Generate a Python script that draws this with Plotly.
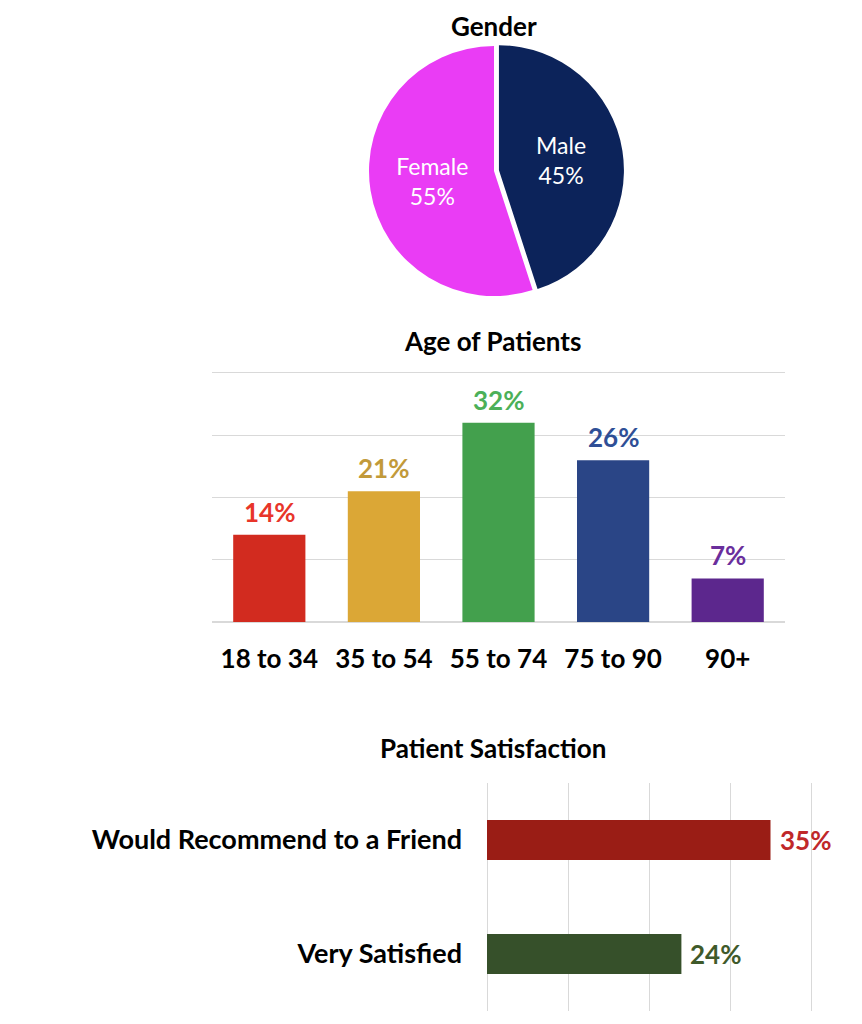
import plotly.graph_objects as go

# ---- data ----
gender_labels = ["Male", "Female"]
gender_values = [45, 55]
gender_colors = ["#0c235a", "#ea3cf5"]

age_groups = ["18 to 34", "35 to 54", "55 to 74", "75 to 90", "90+"]
age_values = [14, 21, 32, 26, 7]
age_bar_colors = ["#d22b1f", "#dba736", "#43a04d", "#2a4586", "#5c278d"]
age_text_colors = ["#e8352a", "#c29a3a", "#4cb058", "#2f4f96", "#6a2e9c"]

sat_labels = ["Very Satisfied", "Would Recommend to a Friend"]
sat_values = [24, 35]
sat_bar_colors = ["#36502a", "#9a1d15"]
sat_text_colors = ["#3f5a2a", "#c0282a"]

FONT = "Lato"
W, H = 862, 1024
OFF = 8  # page body margin


def fx(x):
    return (x - OFF) / W


def fy(y):
    return 1 - (y - OFF) / H


fig = go.Figure()

# ---- pie ----
cx, cy, r = 494, 171, 125
rr = r * 1.04
fig.add_trace(go.Pie(
    labels=gender_labels, values=gender_values, sort=False, direction="clockwise",
    rotation=0, pull=[0.04, 0],
    marker=dict(colors=gender_colors, line=dict(color="white", width=0)),
    texttemplate="%{label}<br>%{percent:.0%}", textposition="inside",
    insidetextorientation="horizontal",
    textfont=dict(family=FONT, size=23, color="white"),
    showlegend=False, hoverinfo="label+percent",
    domain=dict(x=[fx(cx - rr), fx(cx + rr)], y=[fy(cy + rr), fy(cy - rr)]),
))

# ---- age bars ----
fig.add_trace(go.Bar(
    x=age_groups, y=age_values, marker=dict(color=age_bar_colors, line=dict(width=0)),
    xaxis="x", yaxis="y", showlegend=False,
))

# ---- satisfaction bars ----
fig.add_trace(go.Bar(
    y=sat_labels, x=sat_values, orientation="h",
    marker=dict(color=sat_bar_colors, line=dict(width=0)),
    xaxis="x2", yaxis="y2", showlegend=False, width=0.35,
))

annotations = []
for g, v, c in zip(age_groups, age_values, age_text_colors):
    annotations.append(dict(x=g, y=v, xref="x", yref="y", text=f"<b>{v}%</b>",
                            showarrow=False, yanchor="bottom", yshift=5,
                            font=dict(family=FONT, size=26, color=c)))
for l, v, c in zip(sat_labels, sat_values, sat_text_colors):
    annotations.append(dict(x=v, y=l, xref="x2", yref="y2", text=f"<b>{v}%</b>",
                            showarrow=False, xanchor="left", xshift=7,
                            font=dict(family=FONT, size=26, color=c)))

# chart titles
annotations.append(dict(x=fx(494), y=1.0, xref="paper", yref="paper", text="<b>Gender</b>",
                        showarrow=False, xanchor="center", yanchor="top",
                        font=dict(family=FONT, size=26, color="black")))
titles = [("Age of Patients", 492, 341), ("Patient Satisfaction", 493, 748)]
for t, x, y in titles:
    annotations.append(dict(x=fx(x), y=fy(y), xref="paper", yref="paper", text=f"<b>{t}</b>",
                            showarrow=False, xanchor="center", yanchor="middle",
                            font=dict(family=FONT, size=26, color="black")))

# bar chart geometry (reference pixels)
base_y, top_y = 622, 373          # y=0 and y=40
ppu = (base_y - top_y) / 40
ytop = 40.5
left_x, right_x = 487, 811        # x=0 and x=40
ppx = (right_x - left_x) / 40

fig.update_layout(
    width=W, height=H, margin=dict(l=0, r=0, t=0, b=0),
    paper_bgcolor="white", plot_bgcolor="white",
    font=dict(family=FONT, color="black"),
    bargap=0.37,
    xaxis=dict(domain=[fx(212), fx(785)], anchor="y", showgrid=False, showline=False,
               tickfont=dict(family=FONT, size=26, color="black", weight="bold"),
               ticklabelstandoff=19, ticks=""),
    yaxis=dict(domain=[fy(base_y), fy(base_y - ytop * ppu)], anchor="x", range=[0, ytop],
               tickvals=[0, 10, 20, 30, 40],
               showgrid=True, gridcolor="#d9d9d9", gridwidth=1, zeroline=True,
               zerolinecolor="#d9d9d9", zerolinewidth=1.5, showticklabels=False, ticks=""),
    xaxis2=dict(domain=[fx(left_x), fx(left_x + ytop * ppx)], anchor="y2", range=[0, ytop],
                tickvals=[0, 10, 20, 30, 40],
                showgrid=True, gridcolor="#d9d9d9", gridwidth=1, zeroline=True,
                zerolinecolor="#d9d9d9", zerolinewidth=1, showticklabels=False, ticks=""),
    yaxis2=dict(domain=[fy(1011), fy(783)], anchor="x2", showgrid=False,
                showline=False, ticks="",
                tickfont=dict(family=FONT, size=27, color="black", weight="bold"),
                ticklabelstandoff=24),
    annotations=annotations,
)

fig.write_html("out.html")
